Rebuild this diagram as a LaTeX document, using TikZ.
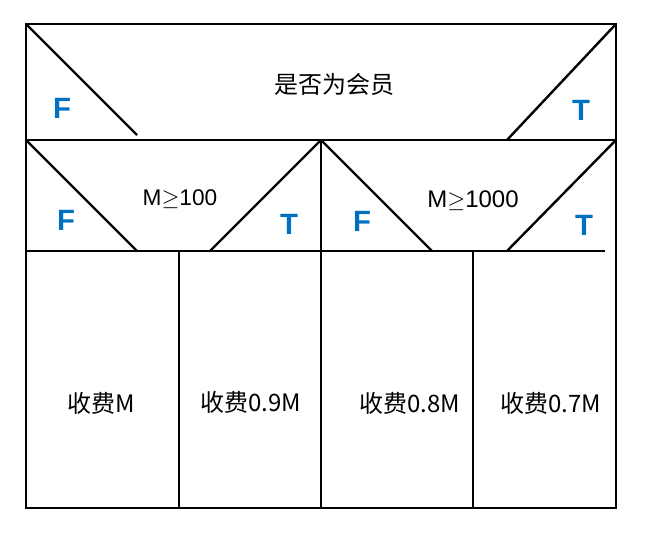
\documentclass[tikz,border=0pt]{standalone}
\usepackage{fontspec}
\setmainfont{Liberation Sans}
\newfontfamily\cjk{Noto Sans CJK SC}
\definecolor{tblue}{RGB}{0,112,192}
\begin{document}
\begin{tikzpicture}[x=0.75pt,y=-0.75pt,
  ln/.style={line width=1.8pt,black},
  ft/.style={font=\fontsize{22}{22}\selectfont\bfseries, text=tblue},
  lbl/.style={font=\cjk\fontsize{18}{20}\selectfont}]
\useasboundingbox (0,0) rectangle (647,544);
\draw[ln] (26,24) rectangle (616,508);
\draw[ln] (26,140) -- (616,140);
\draw[ln] (26,251) -- (605,251);
\draw[ln] (321,140) -- (321,508);
\draw[ln] (179,251) -- (179,508);
\draw[ln] (473,251) -- (473,508);
\draw[ln] (26,24) -- (137,135);
\draw[ln] (616,24) -- (507,140);
\draw[ln] (26,140) -- (137,251);
\draw[ln] (321,140) -- (210,251);
\draw[ln] (321,140) -- (432,251);
\draw[ln] (616,140) -- (507,251);
\node[lbl] (q1) at (334,84) {是否为会员};
\node[font=\fontsize{17}{19}\selectfont] (q2) at (180,199) {M$\geq$100};
\node[font=\fontsize{18}{20}\selectfont] (q3) at (473,201) {M$\geq$1000};
\node[ft] (f1) at (62,108) {F};
\node[ft] (t1) at (581,110) {T};
\node[ft] (f2) at (66,220) {F};
\node[ft] (t2) at (289,224) {T};
\node[ft] (f3) at (362,221) {F};
\node[ft] (t3) at (584,225) {T};
\node[lbl] (a1) at (101,403) {收费M};
\node[lbl] (a2) at (251,402) {收费0.9M};
\node[lbl] (a3) at (410,403) {收费0.8M};
\node[lbl] (a4) at (551,403) {收费0.7M};
\end{tikzpicture}
\end{document}
